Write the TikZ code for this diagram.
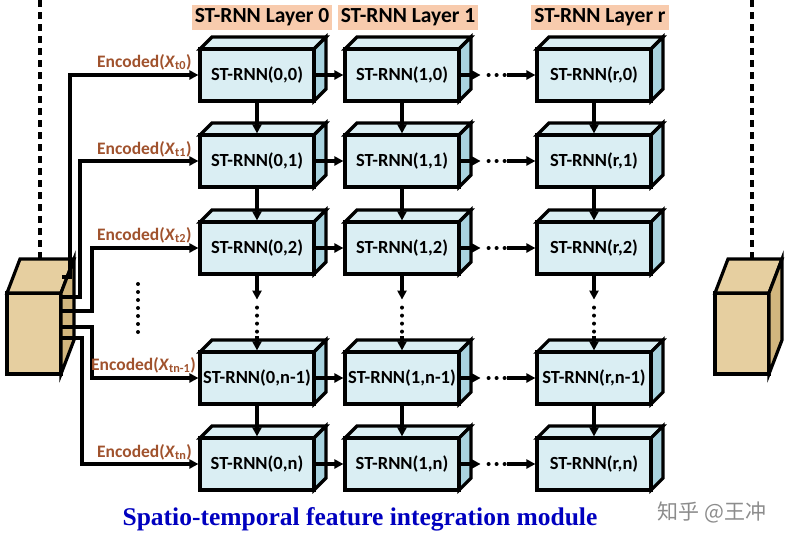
\documentclass[tikz,border=0pt]{standalone}
\usepackage{fontspec}
\setmainfont{Carlito}
\newfontfamily\titlefont{Liberation Serif}
\newfontfamily\cjkf{Noto Sans CJK SC}
\usetikzlibrary{arrows.meta}
\definecolor{cfront}{HTML}{DAEEF3}
\definecolor{cside}{HTML}{A9D3DF}
\definecolor{peach}{HTML}{F8CBAD}
\definecolor{brownt}{HTML}{A0522D}
\definecolor{tan}{HTML}{E6CFA0}
\definecolor{tanside}{HTML}{D2B67E}
\tikzset{
 cell/.style={draw=black, line width=3.2pt, fill=cfront, minimum width=114pt, minimum height=52pt, inner sep=0pt, font=\bfseries\fontsize{18.5}{18.5}\selectfont},
 face/.style={draw=black, line width=3.2pt, line join=miter},
 conn/.style={line width=3.2pt, -{Triangle[length=9pt,width=9pt]}},
 plain/.style={line width=3.2pt},
 dotl/.style={line width=4pt, line cap=round, dash pattern=on 0pt off 8pt},
 dashl/.style={line width=3.4pt, dash pattern=on 7pt off 5pt},
 enc/.style={text=brownt, font=\bfseries\fontsize{17.5}{17.5}\selectfont, anchor=south west, inner sep=1pt},
 hdr/.style={fill=peach, font=\bfseries\fontsize{21.5}{21.5}\selectfont, inner sep=3pt, minimum height=25pt},
}
\newcommand{\cubecell}[4]{%
 \filldraw[fill=cfront,face] (#2-57+12,#3-26-12) -- (#2+57+12,#3-26-12) -- (#2+57,#3-26) -- (#2-57,#3-26) -- cycle;
 \filldraw[fill=cside,face] (#2+57,#3-26) -- (#2+57+12,#3-26-12) -- (#2+57+12,#3+26-12) -- (#2+57,#3+26) -- cycle;
 \node[cell] (#1) at (#2,#3) {#4};}
\begin{document}
\begin{tikzpicture}[x=1pt,y=-1pt]
\useasboundingbox (0,0) rectangle (787,544);
% dashed verticals
\draw[dashl] (40,0) -- (40,268);
\draw[dashl] (752,0) -- (752,262);
% left and right blocks
\foreach \bx in {7,715}{
 \filldraw[fill=tan,face] (\bx,293) rectangle (\bx+54,374);
 \filldraw[fill=tan,face] (\bx,293) -- (\bx+13,259) -- (\bx+67,259) -- (\bx+54,293) -- cycle;
 \filldraw[fill=tanside,face] (\bx+54,293) -- (\bx+67,259) -- (\bx+67,340) -- (\bx+54,374) -- cycle;
}
% headers
\node[hdr] (h0) at (262,17) {ST-RNN Layer 0};
\node[hdr] (h1) at (408,17) {ST-RNN Layer 1};
\node[hdr] (h2) at (600,17) {ST-RNN Layer r};
% cells
\foreach \c/\cx/\lab in {0/257/0,1/402/1,2/594/r}{
 \foreach \r/\ry/\rl in {0/75/0,1/161/1,2/248/2,3/378/n-1,4/464/n}{
  \cubecell{c\c\r}{\cx}{\ry}{ST-RNN(\lab,\rl)}
 }}
% vertical connectors
\foreach \c in {0,1,2}{
 \draw[conn] (c\c0.south) -- (c\c1.north);
 \draw[conn] (c\c1.south) -- (c\c2.north);
 \draw[conn] (c\c2.south) -- ++(0,24);
 \draw[dotl] ([yshift=-32pt]c\c2.south) -- ([yshift=18pt]c\c3.north);
 \draw[conn] ([yshift=14pt]c\c3.north) -- (c\c3.north);
 \draw[conn] (c\c3.south) -- (c\c4.north);
}
% horizontal connectors
\foreach \r in {0,1,2,3,4}{
 \draw[conn] (c0\r.east) -- (c1\r.west);
 \draw[conn] (c1\r.east) -- ++(20,0);
 \draw[dotl] ([xshift=28pt]c1\r.east) -- ([xshift=-30pt]c2\r.west);
 \draw[conn] ([xshift=-28pt]c2\r.west) -- (c2\r.west);
}
% input lines
\draw[plain] (62,277) -- (70,277);
\draw[conn] (70,278.6) -- (70,75) -- (c00.west);
\draw[plain] (62,297) -- (80,297);
\draw[conn] (80,298.6) -- (80,161) -- (c01.west);
\draw[plain] (62,311) -- (92,311);
\draw[conn] (92,312.6) -- (92,248) -- (c02.west);
\draw[plain] (62,327) -- (92,327);
\draw[conn] (92,325.4) -- (92,378) -- (c03.west);
\draw[plain] (62,338) -- (82,338);
\draw[conn] (82,336.4) -- (82,464) -- (c04.west);
% left vertical dots
\draw[dotl] (138,284) -- (138,332);
% labels
\node[enc] (e0) at (96,71) {Encoded(\textit{X}\textsubscript{t0})};
\node[enc] (e1) at (96,158) {Encoded(\textit{X}\textsubscript{t1})};
\node[enc] (e2) at (96,244) {Encoded(\textit{X}\textsubscript{t2})};
\node[enc] (e3) at (90,374) {Encoded(\textit{X}\textsubscript{tn-1})};
\node[enc] (e4) at (96,461) {Encoded(\textit{X}\textsubscript{tn})};
% title
\node[text=blue!75!black, font=\titlefont\bfseries\fontsize{25.5}{25.5}\selectfont] (title) at (360,519) {Spatio-temporal feature integration module};
\node[text=black!45, font=\cjkf\fontsize{21}{21}\selectfont] (wm) at (712,512) {知乎 @王冲};
\end{tikzpicture}
\end{document}
